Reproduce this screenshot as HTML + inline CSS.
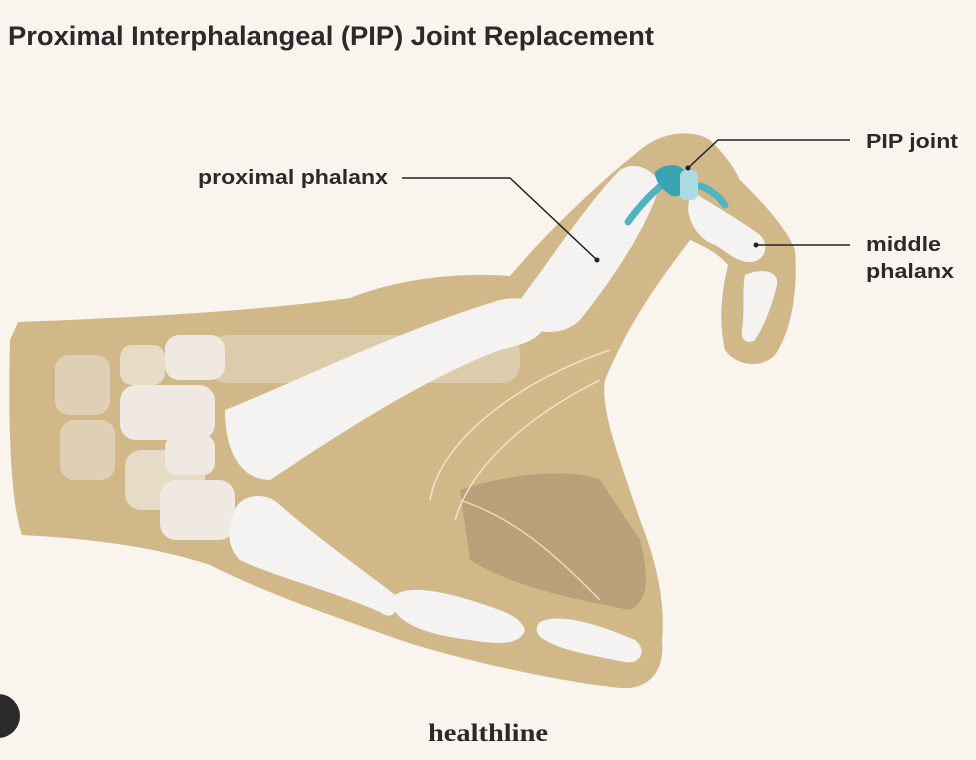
<!DOCTYPE html>
<html><head><meta charset="utf-8"><style>
html,body{margin:0;padding:0;background:#f9f4ee;}
body{width:976px;height:760px;overflow:hidden;position:relative;font-family:"Liberation Sans",sans-serif;}
</style></head><body>
<svg width="976" height="760" viewBox="0 0 976 760" xmlns="http://www.w3.org/2000/svg" style="position:absolute;left:0;top:0">
<rect width="976" height="760" fill="#f9f4ee"/>
<text x="8" y="45" font-family="Liberation Sans,sans-serif" font-weight="bold" font-size="27" fill="#2a2a2a" textLength="646" lengthAdjust="spacingAndGlyphs">Proximal Interphalangeal (PIP) Joint Replacement</text>
<!-- hand -->
<path d="M18,322 C120,318 250,312 350,298 C400,278 460,272 510,276 C540,240 590,190 640,150 C660,133 690,128 710,140 C730,160 735,170 740,180 C760,200 785,225 795,250 C798,290 792,330 775,355 C760,370 735,365 725,350 C718,320 722,290 728,265 C715,250 700,245 690,240 C660,280 630,320 605,380 C600,410 620,460 640,520 C660,570 665,610 662,640 C665,670 650,690 620,688 C560,682 460,660 400,640 C330,615 270,595 210,565 C150,545 80,538 22,535 C10,500 8,420 10,340 Z" fill="#d1b889"/>
<path d="M460,490 C520,470 580,470 600,480 L640,540 C650,580 648,600 630,610 C580,600 520,590 470,560 Z" fill="#b9a078"/>
<path d="M460,500 C520,520 560,560 600,600" stroke="#e6d9c0" stroke-width="1.5" fill="none"/>
<path d="M455,520 C470,470 520,420 600,380" stroke="#eee2cc" stroke-width="1.5" fill="none"/>
<path d="M430,500 C440,440 520,380 610,350" stroke="#eee2cc" stroke-width="1.5" fill="none"/>
<g fill="#f2efeb" opacity="0.9">
<rect x="55" y="355" width="55" height="60" rx="14" opacity="0.5"/>
<rect x="60" y="420" width="55" height="60" rx="14" opacity="0.5"/>
<rect x="120" y="345" width="45" height="40" rx="12" opacity="0.7"/>
<rect x="120" y="385" width="95" height="55" rx="16"/>
<rect x="165" y="335" width="60" height="45" rx="14"/>
<rect x="165" y="435" width="50" height="40" rx="12"/>
<rect x="125" y="450" width="80" height="60" rx="16" opacity="0.7"/>
<rect x="160" y="480" width="75" height="60" rx="16"/>
<rect x="210" y="335" width="310" height="48" rx="18" opacity="0.4"/>
</g>
<path d="M225,410 C300,380 400,330 500,300 C520,295 545,300 545,320 C545,340 520,345 500,350 C420,380 330,440 270,480 C240,480 225,450 225,410 Z" fill="#f5f3f1"/>
<path d="M520,300 C550,260 590,200 620,170 C635,160 655,170 660,185 C650,220 620,270 580,320 C565,335 540,335 525,325 Z" fill="#f5f3f1"/>
<path d="M690,190 C705,200 740,220 760,235 C770,245 765,262 750,262 C735,262 725,250 715,245 C700,240 690,225 688,210 Z" fill="#f5f3f1"/>
<path d="M745,275 C760,268 780,270 777,285 C772,305 765,325 755,340 C748,345 740,340 742,330 C745,310 742,290 745,275 Z" fill="#f5f3f1"/>
<path d="M235,510 C240,495 265,490 280,505 C320,540 370,575 395,595 C400,615 390,620 380,612 C330,590 270,575 240,560 C225,545 228,525 235,510 Z" fill="#f5f3f1"/>
<path d="M390,600 C400,585 430,588 470,600 C500,610 520,615 525,630 C520,645 500,645 470,640 C430,635 395,625 390,600 Z" fill="#f5f3f1"/>
<path d="M540,622 C560,612 600,625 635,640 C648,650 640,665 625,662 C590,655 560,650 545,640 C535,635 535,627 540,622 Z" fill="#f5f3f1"/>
<path d="M628,222 C640,205 655,190 668,180" stroke="#4fb3c0" stroke-width="7" stroke-linecap="round" fill="none"/>
<path d="M700,186 C712,190 720,198 725,205" stroke="#4fb3c0" stroke-width="7" stroke-linecap="round" fill="none"/>
<path d="M655,172 C665,162 685,162 688,178 C690,190 680,198 672,196 C662,190 655,182 655,172 Z" fill="#3aa3b2"/>
<rect x="680" y="170" width="18" height="30" rx="6" fill="#a9dde3"/>
<g stroke="#222" stroke-width="1.5" fill="none">
<path d="M402,178 L510,178 L597,260"/>
<path d="M850,140 L718,140 L688,168"/>
<path d="M850,245 L756,245"/>
</g>
<circle cx="597" cy="260" r="2.5" fill="#222"/>
<circle cx="688" cy="168" r="2.5" fill="#222"/>
<circle cx="756" cy="245" r="2.5" fill="#222"/>
<g font-family="Liberation Sans,sans-serif" font-weight="bold" font-size="20" fill="#2a2a2a" lengthAdjust="spacingAndGlyphs">
<text x="198" y="184" textLength="190" lengthAdjust="spacingAndGlyphs">proximal phalanx</text>
<text x="866" y="148" textLength="92" lengthAdjust="spacingAndGlyphs">PIP joint</text>
<text x="866" y="251" textLength="75" lengthAdjust="spacingAndGlyphs">middle</text>
<text x="866" y="278" textLength="88" lengthAdjust="spacingAndGlyphs">phalanx</text>
</g>
<text x="428" y="741" font-family="Liberation Serif,serif" font-weight="bold" font-size="25" fill="#2a2a2a" textLength="120" lengthAdjust="spacingAndGlyphs">healthline</text>
<circle cx="-2" cy="716" r="22" fill="#2b2b2b"/>
</svg>
</body></html>
